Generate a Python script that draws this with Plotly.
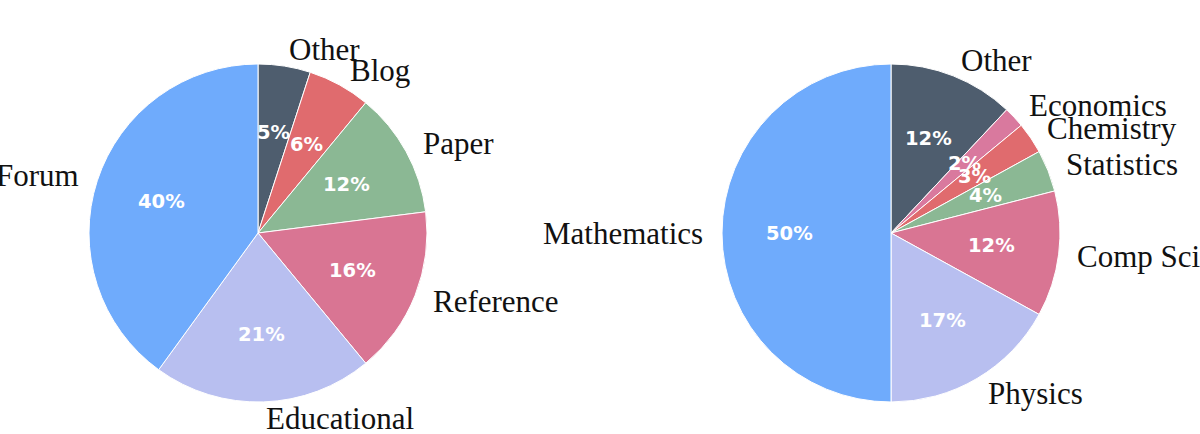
import numpy as np
import plotly.graph_objects as go

# left pie: source types
src_labels = ['Other', 'Blog', 'Paper', 'Reference', 'Educational', 'Forum']
src_values = [5, 6, 12, 16, 21, 40]
src_colors = ['#4e5d6e', '#e06b6e', '#8bb894', '#d97593', '#b8bff0', '#6fabfc']

# right pie: subjects
subj_labels = ['Other', 'Economics', 'Chemistry', 'Statistics', 'Comp Sci',
               'Physics', 'Mathematics']
subj_values = [12, 2, 3, 4, 12, 17, 50]
subj_colors = ['#4e5d6e', '#d9799e', '#e06b6e', '#8bb894', '#d97593',
               '#b8bff0', '#6fabfc']

W, H = 1200, 434
R = 169  # pie radius in px
centers = [(258, 233), (891, 233)]  # px from left / top

label_font = dict(family='Liberation Serif', size=31, color='#111111')
pct_font = dict(family='DejaVu Sans', size=19.5, color='white')

fig = go.Figure()
annotations = []

for (cx, cy), labels, values, colors in [
        (centers[0], src_labels, src_values, src_colors),
        (centers[1], subj_labels, subj_values, subj_colors)]:
    fig.add_trace(go.Pie(
        labels=labels, values=values, sort=False, direction='clockwise',
        rotation=0, textinfo='none', hoverinfo='label+percent',
        marker=dict(colors=colors, line=dict(color='white', width=1)),
        domain=dict(x=[(cx - R) / W, (cx + R) / W],
                    y=[(H - cy - R) / H, (H - cy + R) / H]),
        showlegend=False,
    ))
    vals = np.array(values, dtype=float)
    frac = vals / vals.sum()
    mids = np.cumsum(frac) - frac / 2
    ang = 2 * np.pi * mids  # clockwise from 12 o'clock
    dx, dy = np.sin(ang), np.cos(ang)
    for lab, f, ux, uy in zip(labels, frac, dx, dy):
        # percentage inside (0.6 r)
        annotations.append(dict(
            x=(cx + 0.6 * R * ux) / W, y=(H - cy + 0.6 * R * uy) / H,
            xref='paper', yref='paper', showarrow=False,
            text='<b>%.0f%%</b>' % (f * 100), font=pct_font,
            xanchor='center', yanchor='middle'))
        # category label outside (1.1 r)
        annotations.append(dict(
            x=(cx + 1.1 * R * ux) / W, y=(H - cy + 1.1 * R * uy) / H,
            xref='paper', yref='paper', showarrow=False,
            text=lab, font=label_font,
            xanchor='left' if ux >= 0 else 'right', yanchor='middle'))

fig.update_layout(
    width=W, height=H,
    margin=dict(l=0, r=0, t=0, b=0),
    paper_bgcolor='white', plot_bgcolor='white',
    annotations=annotations,
)

# drop the default page margin so the figure sits flush in the window
fig.write_html("out.html", config={'displayModeBar': False},
               post_script="document.body.style.margin='0';"
                           "document.body.style.overflow='hidden';")
